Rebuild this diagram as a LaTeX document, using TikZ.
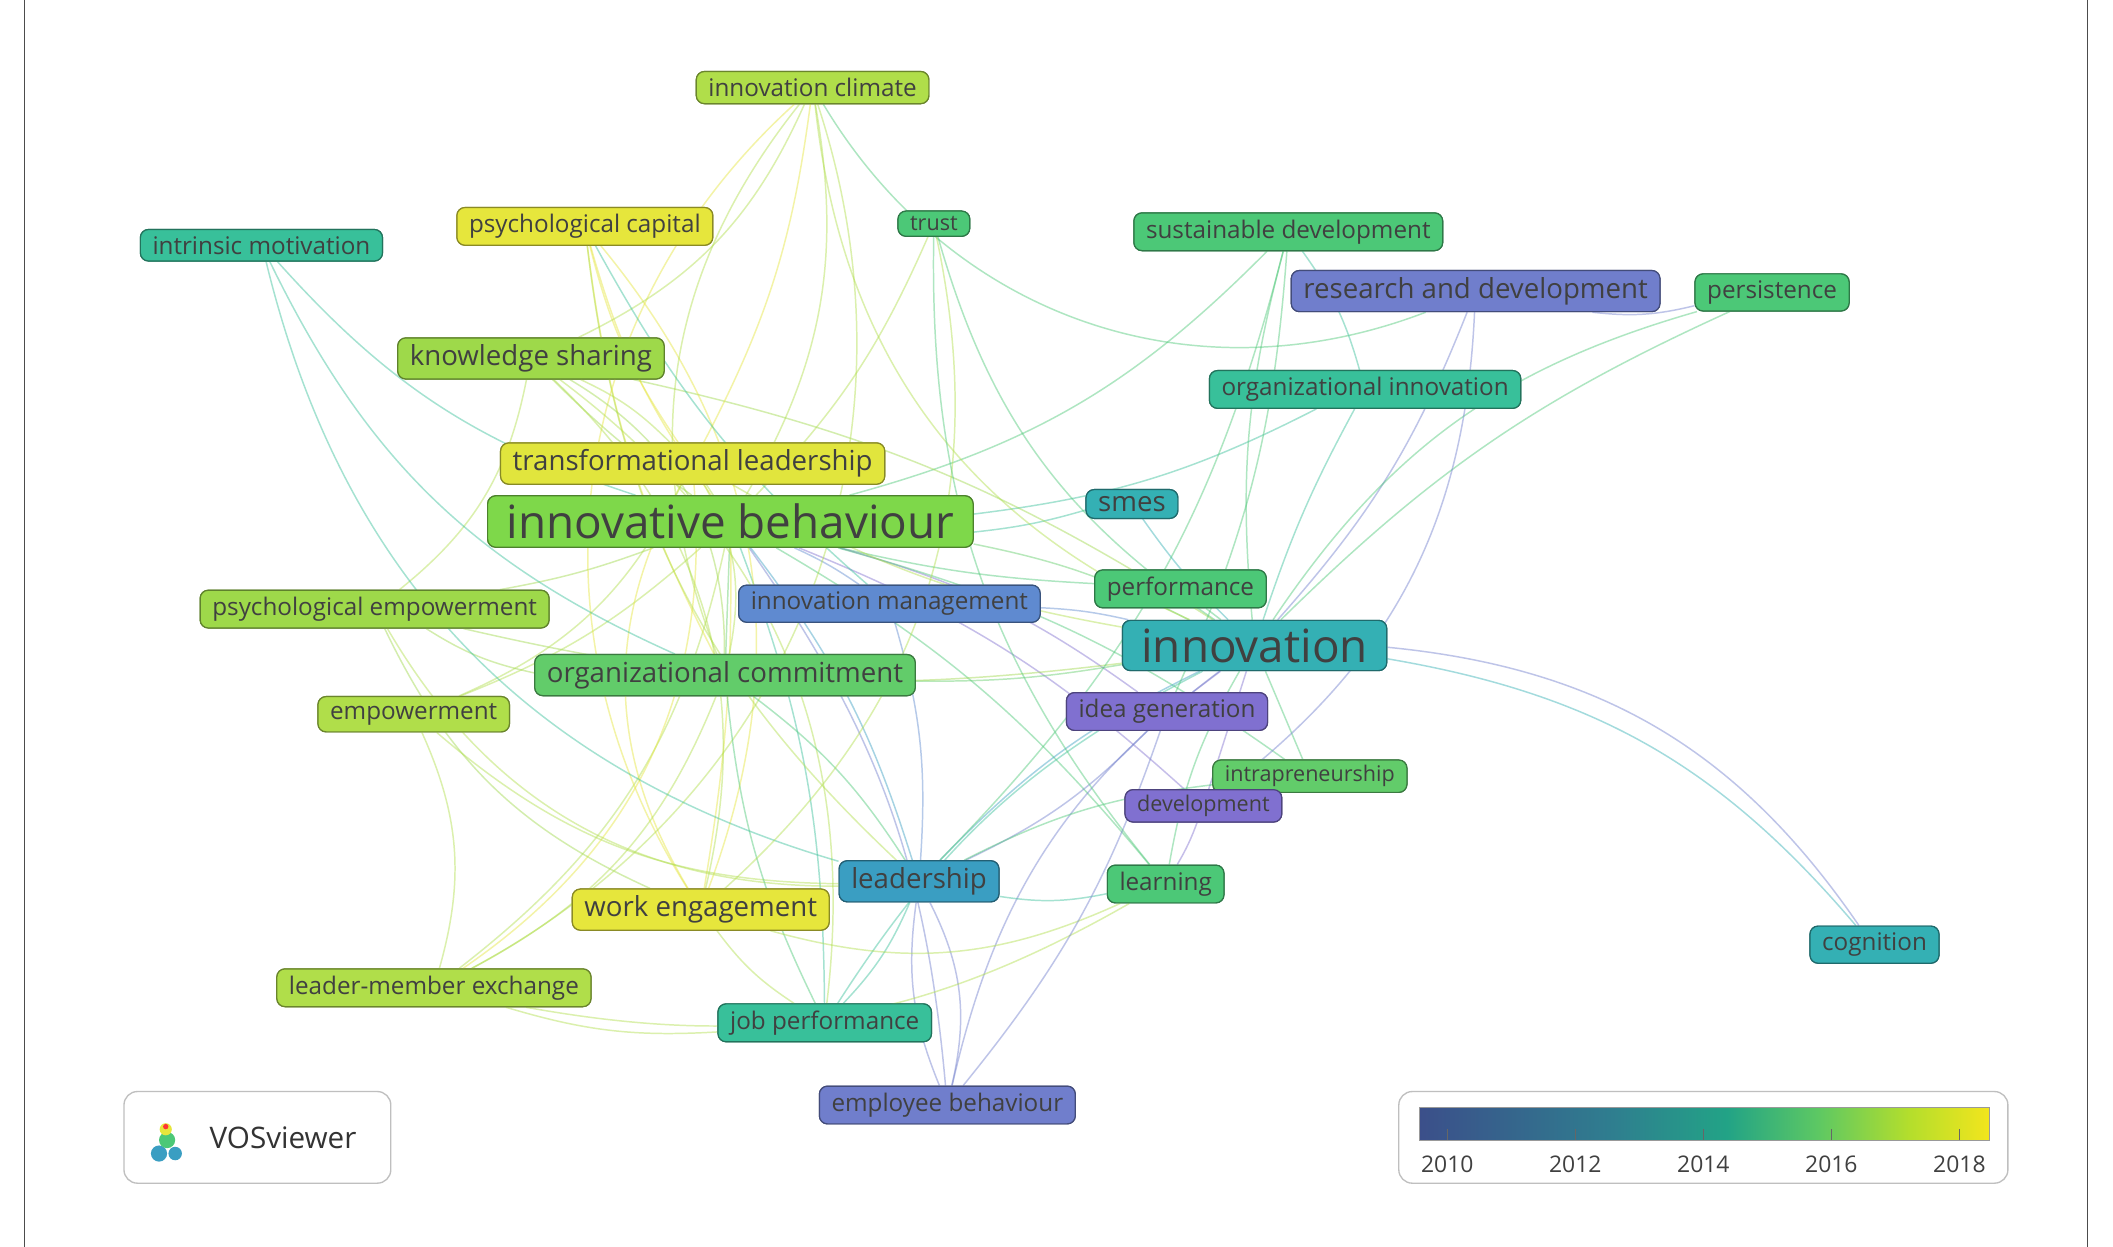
\documentclass[tikz,border=0pt]{standalone}
\usepackage{fontspec}
\setmainfont{Open Sans}
\definecolor{vA}{HTML}{3B4F8A}
\definecolor{vB}{HTML}{2F7E8F}
\definecolor{vC}{HTML}{22A386}
\definecolor{vD}{HTML}{5DC863}
\definecolor{vE}{HTML}{B4DE2C}
\definecolor{vF}{HTML}{F2E51D}
\pgfdeclarehorizontalshading{viridis}{100bp}{color(0bp)=(vA);color(25bp)=(vA);color(42bp)=(vB);color(52bp)=(vC);color(60bp)=(vD);color(68bp)=(vE);color(75bp)=(vF);color(100bp)=(vF)}
\tikzset{
 kw/.style={draw=#1!60!black,fill=#1,rounded corners=6pt,inner xsep=9pt,inner ysep=5pt,font=\fontsize{18}{20}\selectfont,text=black!75,line width=0.9pt},
 kwb/.style={kw=#1,font=\fontsize{34}{38}\selectfont,inner xsep=14pt,inner ysep=6pt},
 kwm/.style={kw=#1,font=\fontsize{20.5}{23}\selectfont},
 kws/.style={kw=#1,font=\fontsize{16}{18}\selectfont,inner ysep=4pt},
 ln/.style={draw=#1,opacity=0.45,line width=1.1pt},
}
\definecolor{cYel}{HTML}{E6E63C}
\definecolor{cYG}{HTML}{B0DE4A}
\definecolor{cLG}{HTML}{9ED94A}
\definecolor{cG}{HTML}{7ED84A}
\definecolor{cMG}{HTML}{62CC6A}
\definecolor{cGT}{HTML}{4CC877}
\definecolor{cT}{HTML}{38C09A}
\definecolor{cTB}{HTML}{34B0B4}
\definecolor{cBl}{HTML}{3A9EC2}
\definecolor{cBM}{HTML}{5F8AD0}
\definecolor{cPB}{HTML}{707ECC}
\definecolor{cPu}{HTML}{8070D0}
\newcommand{\ed}[4]{\draw[ln=#4] (#1) to[bend left=#3] (#2);}
\begin{document}
\begin{tikzpicture}[x=1pt,y=-1pt]
\fill[white] (0,0) rectangle (1568,925);
\useasboundingbox (0,0) rectangle (1568,925);
\draw[black!70,line width=1pt] (18,0) -- (18,925) (1549,0) -- (1549,925);
% nodes (placed first for naming)
\node[kw=cYG] (ic) at (603,65) {innovation climate};
\node[kw=cYel] (pc) at (434,168) {psychological capital};
\node[kws=cGT] (tr) at (693,166) {trust};
\node[kw=cT] (im) at (194,182) {intrinsic motivation};
\node[kw=cGT] (sd) at (956,172) {sustainable development};
\node[kwm=cPB] (rd) at (1095,216) {research and development};
\node[kw=cGT] (pe) at (1315,217) {persistence};
\node[kwm=cLG] (ks) at (394,266) {knowledge sharing};
\node[kw=cT] (oi) at (1013,289) {organizational innovation};
\node[kwm=cYel!90!cYG] (tl) at (514,344) {transformational leadership};
\node[kwb=cG] (ib) at (542,387) {innovative behaviour};
\node[kwm=cTB] (sm) at (840,374) {smes};
\node[kw=cGT] (pf) at (876,437) {performance};
\node[kw=cBM] (imn) at (660,448) {innovation management};
\node[kw=cLG] (pem) at (278,452) {psychological empowerment};
\node[kwb=cTB] (inn) at (931,479) {innovation};
\node[kwm=cMG] (oc) at (538,501) {organizational commitment};
\node[kw=cPu] (ig) at (866,528) {idea generation};
\node[kw=cYG] (em) at (307,530) {empowerment};
\node[kws=cMG] (ip) at (972,576) {intrapreneurship};
\node[kws=cPu] (dv) at (893,598) {development};
\node[kwm=cBl] (ld) at (682,654) {leadership};
\node[kw=cGT] (lr) at (865,656) {learning};
\node[kwm=cYel] (we) at (520,675) {work engagement};
\node[kw=cTB] (cg) at (1391,701) {cognition};
\node[kw=cYG] (lmx) at (322,733) {leader-member exchange};
\node[kw=cT] (jp) at (612,759) {job performance};
\node[kw=cPB] (eb) at (703,820) {employee behaviour};
% edges
\foreach \a/\b/\c/\k in {ib/inn/8/cMG,ib/ic/-20/cYG,ib/pc/10/cYel,ib/tr/-10/cYG,ib/im/15/cT,ib/sd/-15/cGT,ib/ks/5/cLG,ib/tl/0/cYG,ib/sm/-5/cT,ib/pf/-5/cGT,ib/imn/5/cBM,ib/pem/5/cLG,ib/oc/0/cMG,ib/ig/10/cPu,ib/em/10/cYG,ib/ip/10/cGT,ib/dv/10/cPu,ib/ld/10/cBl,ib/lr/10/cGT,ib/we/5/cYel,ib/lmx/20/cYG,ib/jp/10/cT,ib/eb/15/cPB,ib/oi/-10/cT,
inn/sd/10/cGT,inn/rd/-10/cPB,inn/pe/20/cGT,inn/pe/10/cGT,inn/oi/5/cT,inn/sm/5/cTB,inn/pf/0/cGT,inn/imn/-5/cBM,inn/ig/0/cPu,inn/ip/0/cGT,inn/dv/0/cPu,inn/ld/-10/cBl,inn/lr/-10/cGT,inn/cg/25/cPB,inn/cg/20/cTB,inn/oc/5/cMG,inn/tr/20/cGT,inn/ic/30/cYG,inn/ks/-10/cLG,inn/jp/-15/cT,inn/eb/-20/cPB,inn/tl/10/cYG,inn/pem/10/cLG,
tl/we/-30/cYel,tl/pc/10/cYel,tl/ks/-10/cYG,tl/oc/20/cYG,tl/em/20/cYG,tl/lmx/30/cYel,tl/ic/-10/cYel,pc/we/30/cYel,pc/oc/-10/cYel,pc/ld/-20/cYG,ic/we/-40/cYel,ic/ks/20/cYG,ic/oc/-30/cYG,ic/lmx/40/cYG,ic/rd/-40/cGT,ks/oc/30/cLG,ks/jp/30/cYG,ks/we/30/cYG,pem/we/-20/cLG,pem/oc/-10/cLG,pem/ld/-30/cYG,pem/ks/-20/cYG,em/ld/-20/cYG,em/lmx/20/cYG,oc/ld/10/cGT,oc/jp/-10/cGT,oc/lmx/20/cYG,ld/eb/20/cPB,ld/eb/-15/cPB,ld/ig/-10/cPB,ld/lr/-10/cT,ld/jp/10/cT,we/jp/-10/cYG,we/lr/-20/cYG,lmx/lr/-20/cYG,lmx/jp/-10/cYG,sd/oi/10/cT,sd/ld/15/cGT,sd/ig/10/cGT,rd/pe/-10/cPB,rd/dv/25/cPB,im/ld/-30/cT,im/oc/-20/cT,pc/imn/-10/cT,imn/ld/10/cBM,ig/eb/10/cPB,dv/lr/5/cPu,ip/ld/-10/cGT,tr/we/30/cYG,tr/lr/-20/cGT}
 {\ed{\a}{\b}{\c}{\k}}
% redraw nodes above edges
\node[kw=cYG] at (603,65) {innovation climate};
\node[kw=cYel] at (434,168) {psychological capital};
\node[kws=cGT] at (693,166) {trust};
\node[kw=cT] at (194,182) {intrinsic motivation};
\node[kw=cGT] at (956,172) {sustainable development};
\node[kwm=cPB] at (1095,216) {research and development};
\node[kw=cGT] at (1315,217) {persistence};
\node[kwm=cLG] at (394,266) {knowledge sharing};
\node[kw=cT] at (1013,289) {organizational innovation};
\node[kwm=cYel!90!cYG] at (514,344) {transformational leadership};
\node[kwb=cG] at (542,387) {innovative behaviour};
\node[kwm=cTB] at (840,374) {smes};
\node[kw=cGT] at (876,437) {performance};
\node[kw=cBM] at (660,448) {innovation management};
\node[kw=cLG] at (278,452) {psychological empowerment};
\node[kwb=cTB] at (931,479) {innovation};
\node[kwm=cMG] at (538,501) {organizational commitment};
\node[kw=cPu] at (866,528) {idea generation};
\node[kw=cYG] at (307,530) {empowerment};
\node[kws=cMG] at (972,576) {intrapreneurship};
\node[kws=cPu] at (893,598) {development};
\node[kwm=cBl] at (682,654) {leadership};
\node[kw=cGT] at (865,656) {learning};
\node[kwm=cYel] at (520,675) {work engagement};
\node[kw=cTB] at (1391,701) {cognition};
\node[kw=cYG] at (322,733) {leader-member exchange};
\node[kw=cT] at (612,759) {job performance};
\node[kw=cPB] at (703,820) {employee behaviour};
% logo box
\node[draw=black!25,rounded corners=10pt,minimum width=198pt,minimum height=68pt,line width=1pt] (logo) at (191,844) {};
\node[font=\fontsize{22}{25}\selectfont,text=black!80] (vos) at (210,844) {VOSviewer};
\fill[cBl] (118,856) circle (6pt);
\fill[cBl] (130,856) circle (5pt);
\fill[cGT] (124,846) circle (6pt);
\fill[cYel] (123,838) circle (4.5pt);
\fill[red!80] (123,836) circle (2pt);
% colorbar
\node[draw=black!25,rounded corners=10pt,minimum width=452pt,minimum height=68pt,line width=1pt] (cb) at (1264,844) {};
\shade[shading=viridis] (1053,822) rectangle (1476,846);
\draw[black!40] (1053,822) rectangle (1476,846);
\foreach \x/\t in {1074/2010,1169/2012,1264/2014,1359/2016,1454/2018}{
 \draw[black!60] (\x,838) -- (\x,846);
 \node[font=\fontsize{17}{19}\selectfont,text=black!75] at (\x,864) {\t};}
\end{tikzpicture}
\end{document}
